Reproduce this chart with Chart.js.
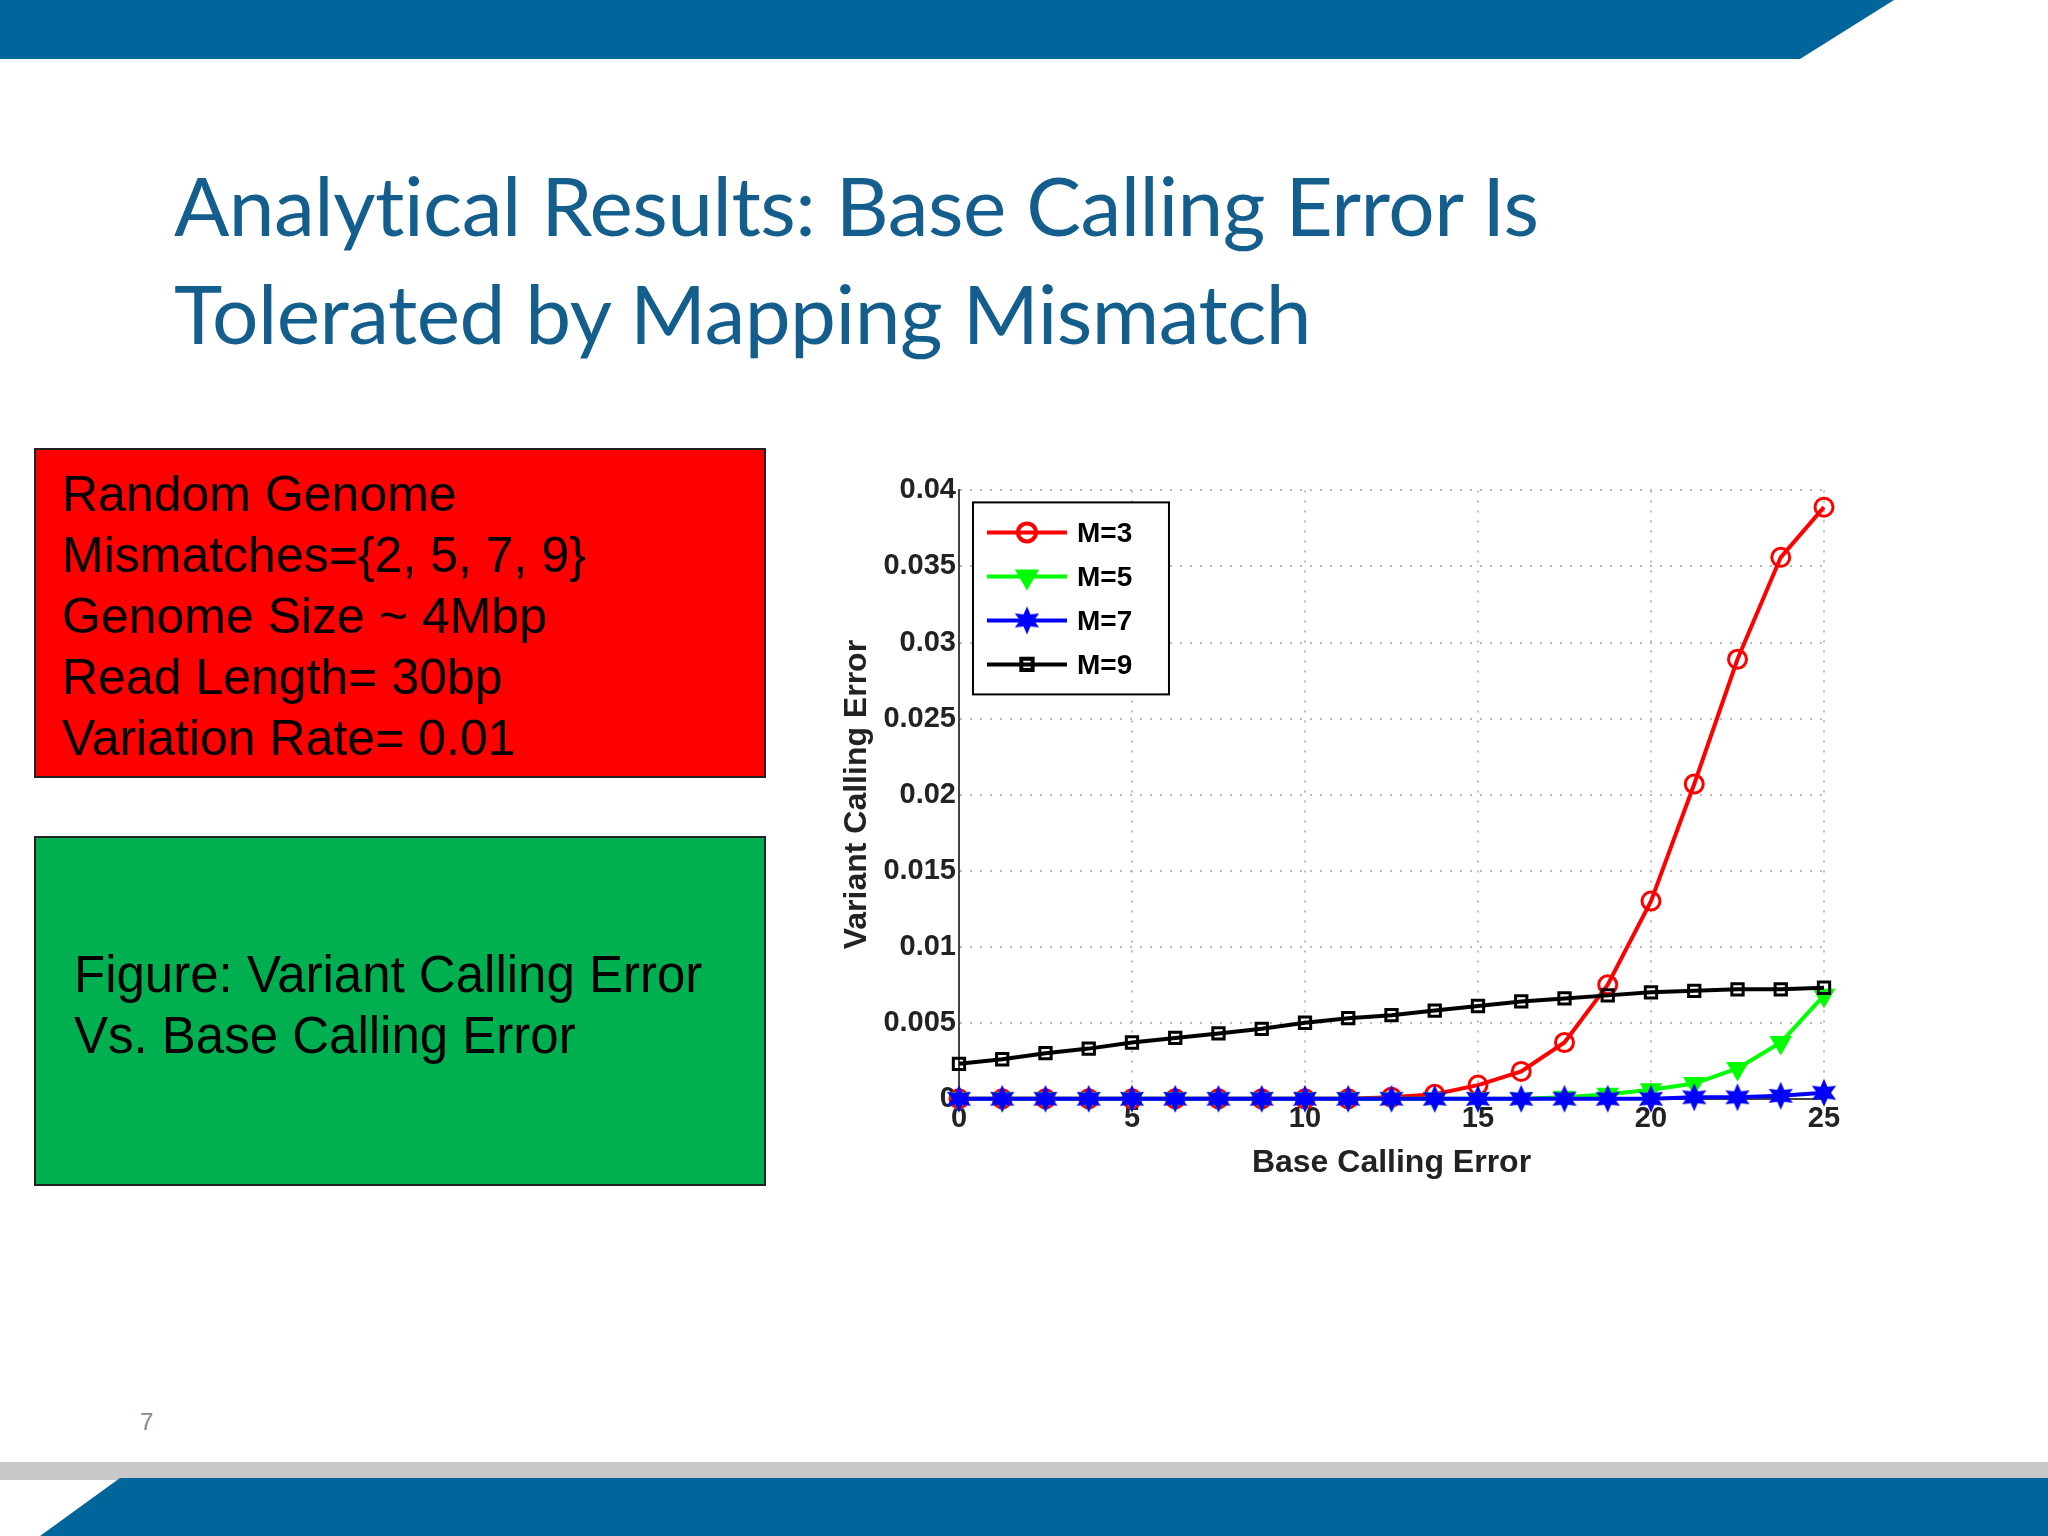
<!DOCTYPE html>
<html>
<head>
<meta charset="utf-8">
<script src="https://cdn.jsdelivr.net/npm/chart.js@4"></script>
<style>
  body{margin:0;width:2048px;height:1536px;position:relative;background:#fff;overflow:hidden;font-family:"Liberation Sans",Arial,sans-serif}
  #topbar{position:absolute;left:0;top:0;width:1894px;height:59px;background:#00659a;clip-path:polygon(0 0,100% 0,100% 0,1800px 100%,0 100%)}
  #title{position:absolute;left:174px;top:150px;font-family:Lato,"Open Sans",sans-serif;font-size:82px;line-height:108px;color:#135e8c;letter-spacing:-0.5px}
  .box{position:absolute;left:34px;width:732px;border:2px solid #222;color:#000;font-size:50px;line-height:61px}
  #red{top:448px;height:330px;background:#ff0000;padding-left:26px;box-sizing:border-box;padding-top:14px}
  #green{top:836px;height:350px;background:#00b050;padding-left:38px;box-sizing:border-box;padding-top:106px;font-size:51px}
  #pnum{position:absolute;left:140px;top:1408px;font-size:24px;color:#888}
  #grey{position:absolute;left:0;top:1462px;width:2048px;height:18px;background:#c8c8c8}
  #botbar{position:absolute;left:0;top:1478px;width:2048px;height:58px;background:#00659a;clip-path:polygon(120px 0,100% 0,100% 100%,40px 100%)}
  #wrap{position:absolute;left:820px;top:470px;width:1030px;height:720px}
</style>
</head>
<body>
<div id="topbar"></div>
<div id="title">Analytical Results: Base Calling Error Is<br>Tolerated by Mapping Mismatch</div>
<div class="box" id="red">Random Genome<br>Mismatches={2, 5, 7, 9}<br>Genome Size ~ 4Mbp<br>Read Length= 30bp<br>Variation Rate= 0.01</div>
<div class="box" id="green">Figure: Variant Calling Error<br>Vs. Base Calling Error</div>
<div id="pnum">7</div>
<div id="grey"></div>
<div id="botbar"></div>
<div id="wrap"><canvas id="c"></canvas></div>
<script>
const baseErr = [0,1.25,2.5,3.75,5,6.25,7.5,8.75,10,11.25,12.5,13.75,15,16.25,17.5,18.75,20,21.25,22.5,23.75,25]
const m3 = [0,0,0,0,0,0,0,0,0,0,0.0001,0.0003,0.0009,0.0018,0.0037,0.0075,0.013,0.0207,0.0289,0.0356,0.0389]
const m5 = [0,0,0,0,0,0,0,0,0,0,0,0,0,0,0.0001,0.0003,0.0006,0.001,0.002,0.0037,0.0068]
const m7 = [0,0,0,0,0,0,0,0,0,0,0,0,0,0,0,0,0,0.0001,0.0001,0.0002,0.0004]
const m9 = [0.0023,0.0026,0.003,0.0033,0.0037,0.004,0.0043,0.0046,0.005,0.0053,0.0055,0.0058,0.0061,0.0064,0.0066,0.0068,0.007,0.0071,0.0072,0.0072,0.0073]
const labels = ['M=3','M=5','M=7','M=9']

function pts(arr){ return arr.map((v,i) => ({x: baseErr[i], y: v})) }

// filled six-point star like the matlab hexagram marker
function makeStar(){
  const cv = document.createElement('canvas')
  cv.width = 30; cv.height = 30
  const g = cv.getContext('2d')
  g.fillStyle = '#0000ff'
  g.beginPath()
  for (let k = 0; k < 12; k++) {
    const r = k % 2 ? 7 : 14
    const a = -Math.PI / 2 + k * Math.PI / 6
    g.lineTo(15 + r * Math.cos(a), 15 + r * Math.sin(a))
  }
  g.closePath(); g.fill()
  return cv
}
const star = makeStar()

const styles = [
  {c:'#ff0000', p:'circle', bg:'transparent', r:9},
  {c:'#00ff00', p:'triangle', bg:'#00ff00', r:10, rot:180},
  {c:'#0000ff', p:star, bg:'#0000ff', r:12},
  {c:'#000000', p:'rect', bg:'transparent', r:8}
]
const series = [m3, m5, m7, m9]

const datasets = series.map((s,i) => ({
  label: labels[i],
  data: pts(s),
  borderColor: styles[i].c,
  backgroundColor: styles[i].bg,
  pointStyle: styles[i].p,
  pointRadius: styles[i].r,
  pointRotation: styles[i].rot || 0,
  pointBorderWidth: 3,
  borderWidth: 4,
  order: 4 - i,
  clip: false
}))

// legend drawn inside the plot area, top-left
const innerLegend = {
  id: 'innerLegend',
  afterDraw(chart){
    const ctx = chart.ctx, a = chart.chartArea
    const x0 = a.left + 14, y0 = a.top + 12, w = 196, h = 192
    ctx.save()
    ctx.fillStyle = '#fff'
    ctx.fillRect(x0, y0, w, h)
    ctx.strokeStyle = '#000'; ctx.lineWidth = 2
    ctx.strokeRect(x0, y0, w, h)
    ctx.font = 'bold 28px "Liberation Sans", Arial'
    ctx.textBaseline = 'middle'
    for (let i = 0; i < 4; i++) {
      const y = y0 + 30 + i * 44
      ctx.strokeStyle = styles[i].c; ctx.lineWidth = 4
      ctx.beginPath(); ctx.moveTo(x0 + 14, y); ctx.lineTo(x0 + 94, y); ctx.stroke()
      ctx.fillStyle = styles[i].bg
      Chart.helpers.drawPoint(ctx, {pointStyle: styles[i].p, radius: styles[i].r, rotation: styles[i].rot || 0, borderWidth: 3}, x0 + 54, y)
      ctx.fillStyle = '#000'
      ctx.fillText(labels[i], x0 + 104, y + 2)
    }
    ctx.restore()
  }
}

const tickFont = {family: '"Liberation Sans", Arial', size: 29, weight: 'bold'}
const titleFont = {family: '"Liberation Sans", Arial', size: 32, weight: 'bold'}

new Chart(document.getElementById('c'), {
  type: 'line',
  data: {datasets: datasets},
  plugins: [innerLegend],
  options: {
    responsive: true,
    maintainAspectRatio: false,
    animation: false,
    plugins: {legend: {display: false}, tooltip: {enabled: false}},
    layout: {padding: {right: 26, top: 14, left: 14, bottom: 4}},
    scales: {
      x: {
        type: 'linear', min: 0, max: 25,
        ticks: {stepSize: 5, color: '#222', font: tickFont},
        grid: {color: '#bbb', lineWidth: 2, drawTicks: false},
        border: {color: '#444', width: 2, dash: [2, 8]},
        title: {display: true, text: 'Base Calling Error', color: '#222', font: titleFont}
      },
      y: {
        min: 0, max: 0.04,
        ticks: {stepSize: 0.005, color: '#222', font: tickFont, callback: v => +v.toFixed(3)},
        grid: {color: '#bbb', lineWidth: 2, drawTicks: false},
        border: {color: '#444', width: 2, dash: [2, 8]},
        title: {display: true, text: 'Variant Calling Error', color: '#222', font: titleFont}
      }
    }
  }
})
</script>
</body>
</html>
